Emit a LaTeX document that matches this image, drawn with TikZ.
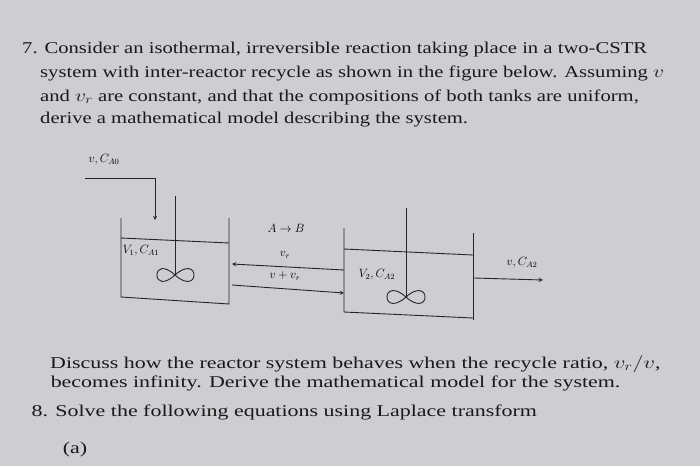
\documentclass[tikz,border=0pt]{standalone}
\usepackage{amsmath}
\usepackage{fontspec}
\setmainfont{Liberation Serif}
\newcommand{\wide}[1]{\scalebox{1.25}[1]{#1}}
\newcommand{\wider}[1]{\scalebox{1.33}[1]{#1}}
\begin{document}
\begin{tikzpicture}[x=1pt,y=-1pt,
  ln/.style={line width=0.9pt,black!85},
  txt/.style={anchor=west,inner sep=0pt,font=\fontsize{16.5}{18}\selectfont,text=black!90},
  lab/.style={inner sep=0pt,font=\fontsize{12}{13}\selectfont\itshape}]
\definecolor{paper}{RGB}{205,205,210}
\fill[paper] (0,0) rectangle (700,466);
\useasboundingbox (0,0) rectangle (700,466);
% text above
\node[txt] (t1) at (22,50) {\wide{7. Consider an isothermal, irreversible reaction taking place in a two-CSTR}};
\node[txt] (t2) at (40,73) {\wide{system with inter-reactor recycle as shown in the figure below. Assuming $v$}};
\node[txt] (t3) at (40,97) {\wide{and $v_r$ are constant, and that the compositions of both tanks are uniform,}};
\node[txt] (t4) at (40,120) {\wide{derive a mathematical model describing the system.}};
% tank 1
\draw[ln] (121,218) -- (121,297) -- (229,304) -- (229,218);
\draw[ln] (121,238) -- (229,243);
\draw[ln] (175,196) -- (175,274);
\draw[ln] (175,275) .. controls (186,265) and (194,268) .. (194,275) .. controls (194,282) and (186,285) .. (175,275)
  .. controls (164,265) and (157,268) .. (157,275) .. controls (157,282) and (164,285) .. (175,275);
\node[lab] (v1) at (141,251) {$V_1,C_{A1}$};
% feed
\coordinate (f0) at (85,178);
\coordinate (f1) at (155,178);
\coordinate (f2) at (155,220);
\draw[ln,->,>=stealth] (f0) -- (f1) -- (f2);
\node[lab] (fl) at (104,160) {$v,C_{A0}$};
% tank 2
\draw[ln] (344,228) -- (344,312) -- (473,318);
\draw[ln] (473,233) -- (473,320);
\draw[ln] (344,249) -- (473,255);
\draw[ln] (406,208) -- (406,296);
\draw[ln] (406,297) .. controls (417,287) and (425,290) .. (425,297) .. controls (425,304) and (417,307) .. (406,297)
  .. controls (395,287) and (387,290) .. (387,297) .. controls (387,304) and (395,307) .. (406,297);
\node[lab] (v2) at (377,275) {$V_2,C_{A2}$};
% connectors
\coordinate (r0) at (344,270);
\coordinate (r1) at (232,264);
\draw[ln,->,>=stealth] (r0) -- (r1);
\coordinate (s0) at (232,285);
\coordinate (s1) at (344,293);
\draw[ln,->,>=stealth] (s0) -- (s1);
\node[lab] (ab) at (286,228) {$A\rightarrow B$};
\node[lab] (vr) at (285,255) {$v_r$};
\node[lab] (vvr) at (285,276) {$v+v_r$};
\coordinate (o0) at (474,278);
\coordinate (o1) at (543,280);
\draw[ln,->,>=stealth] (o0) -- (o1);
\node[lab] (ol) at (522,263) {$v,C_{A2}$};
% text below
\begin{scope}[rotate around={1.8:(50,365)}]
\node[txt] (b1) at (50,364) {\wider{Discuss how the reactor system behaves when the recycle ratio, $v_r/v$,}};
\node[txt] (b2) at (50,383) {\wider{becomes infinity. Derive the mathematical model for the system.}};
\node[txt] (b3) at (30,412) {\wider{8. Solve the following equations using Laplace transform}};
\node[txt] (b4) at (60,450) {\wider{(a)}};
\end{scope}
\end{tikzpicture}
\end{document}
